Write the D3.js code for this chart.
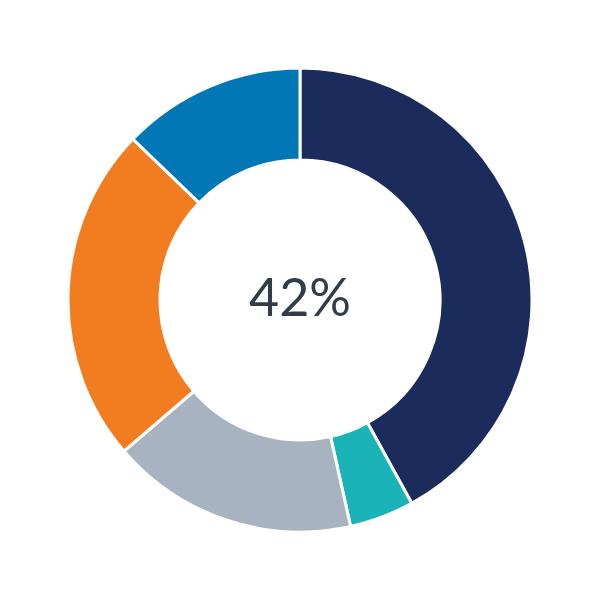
<!DOCTYPE html>
<html><head><meta charset="utf-8">
<script src="https://cdn.jsdelivr.net/npm/d3@7"></script>
<style>html,body{margin:0;padding:0;background:#fff;}</style>
</head><body>
<svg id="chart" width="600" height="600"></svg>
<script>
const categories = ["A", "B", "C", "D", "E"];
const values = [42, 4.5, 17.2, 23.5, 12.8];
const colors = ["#1b2b5b", "#1ab4b8", "#a8b3c1", "#f27d21", "#0177b5"];
const centerLabel = "42%";

const svg = d3.select("#chart");
const g = svg.append("g").attr("transform", "translate(300,300)");
const pie = d3.pie().sort(null).value(d => d.v);
const arc = d3.arc().innerRadius(140).outerRadius(232);
const data = categories.map((c, i) => ({c, v: values[i], col: colors[i]}));
g.selectAll("path").data(pie(data)).join("path")
  .attr("d", arc).attr("fill", d => d.data.col)
  .attr("stroke", "#fff").attr("stroke-width", 3);
g.append("text").attr("text-anchor", "middle").attr("y", 16)
  .attr("font-family", "Lato, 'Open Sans', sans-serif").attr("font-weight", 400)
  .attr("font-size", 52).attr("fill", "#333d48").text(centerLabel);
</script>
</body></html>
